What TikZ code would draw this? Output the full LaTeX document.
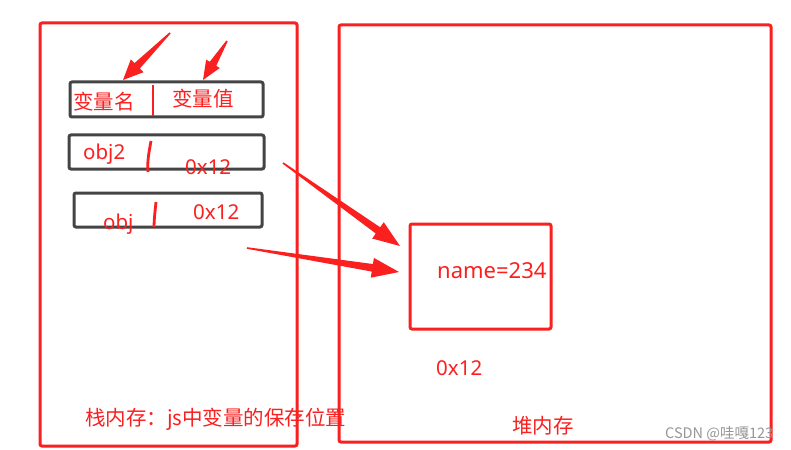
\documentclass[tikz,border=0pt]{standalone}
\usepackage{fontspec}
\setmainfont{Noto Sans CJK SC}
\newfontfamily\lat{Noto Sans}
\usetikzlibrary{calc}
\definecolor{myred}{RGB}{250,32,32}
\definecolor{boxgray}{RGB}{68,68,68}
\definecolor{wmgray}{RGB}{150,150,150}
\newcommand\taperarrow[4]{%
  \path coordinate (tA) at (#1) coordinate (tB) at (#2);
  \path coordinate (tN) at ($(tB)!#3!(tA)$);
  \fill[myred] ($(tA)!0.8pt!90:(tB)$) -- ($(tN)!3.8pt!90:(tB)$) -- ($(tN)!#4!90:(tB)$) -- (tB)
    -- ($(tN)!#4!-90:(tB)$) -- ($(tN)!3.8pt!-90:(tB)$) -- ($(tA)!0.8pt!-90:(tB)$) -- cycle;}
\begin{document}
\begin{tikzpicture}[x=1pt,y=-1pt,
  font=\fontsize{20.5}{24}\selectfont,
  frame/.style={draw=myred, line width=3pt, rounded corners=2pt},
  slot/.style={draw=boxgray, line width=3pt, rounded corners=2pt},
  lbl/.style={text=myred, anchor=base west, inner sep=0pt},
  stroke/.style={draw=myred, line width=2.8pt}]
\useasboundingbox[fill=white] (0,0) rectangle (791,449);

% big frames
\draw[frame] (40,23) rectangle (297,446);
\draw[frame] (339,25) rectangle (771,442);
% heap object
\draw[frame] (410,224) rectangle (551,329);

% stack slots
\draw[slot] (70,82) rectangle (263,117);
\draw[slot] (69,135) rectangle (264,169);
\draw[slot] (74,193) rectangle (262,227);

% hand strokes
\draw[stroke] (153,85) -- (153,116);
\draw[stroke] (151,141) .. controls (149,152) and (147,162) .. (148,172);
\draw[stroke] (156,202) .. controls (155,212) and (154,220) .. (154,227);

% labels
\node[lbl] (hname) at (73,110) {变量名};
\node[lbl] (hval) at (172,107) {变量值};
\node[lbl] (o2) at (83,160) {\lat obj2};
\node[lbl] (v2) at (185,174) {\lat 0x12};
\node[lbl] (o1) at (103,229) {\lat obj};
\node[lbl] (v1) at (193,219) {\lat 0x12};
\node[lbl, font=\fontsize{22}{26}\selectfont] (prop) at (437,278) {\lat name=234};
\node[lbl] (addr) at (436,375) {\lat 0x12};
\node[lbl] (stack) at (85,425) {栈内存：js中变量的保存位置};
\node[lbl] (heap) at (512,433) {堆内存};
\node[anchor=base west, inner sep=0pt, text=wmgray, font=\fontsize{14.5}{16}\selectfont] (wm) at (665,438) {CSDN @哇嘎123};

% arrows
\coordinate (a1s) at (170,33);  \coordinate (a1e) at (123,80);
\coordinate (a2s) at (227,41);  \coordinate (a2e) at (203,80);
\coordinate (a3s) at (283,163); \coordinate (a3e) at (400,246);
\coordinate (a4s) at (247,248); \coordinate (a4e) at (399,272);
\taperarrow{a1s}{a1e}{20pt}{9pt}
\taperarrow{a2s}{a2e}{19pt}{8pt}
\taperarrow{a3s}{a3e}{27pt}{10pt}
\taperarrow{a4s}{a4e}{27pt}{10pt}
\end{tikzpicture}
\end{document}
